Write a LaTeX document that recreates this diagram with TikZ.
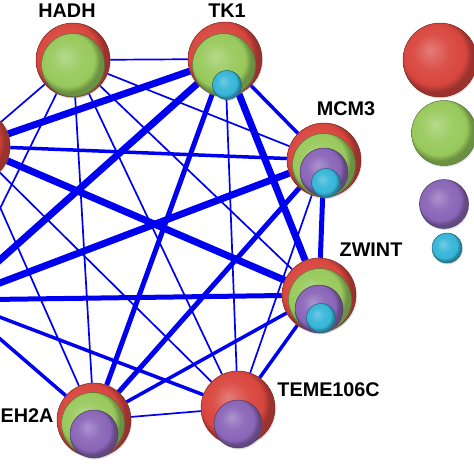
\documentclass[tikz,border=0pt]{standalone}
\usepackage{fontspec}
\setmainfont{Liberation Sans}
\usepackage{tikz}
\usetikzlibrary{positioning,shadows,backgrounds}

\definecolor{genered}{HTML}{D8463E}
\definecolor{genegreen}{HTML}{98C95C}
\definecolor{genepurple}{HTML}{8A65B8}
\definecolor{genecyan}{HTML}{36B5D8}
\definecolor{linkblue}{HTML}{0000F0}

\makeatletter
\pgfdeclareradialshading[tikz@ball]{softball}{\pgfqpoint{-7bp}{7bp}}{%
  color(0bp)=(tikz@ball!70!white); color(12bp)=(tikz@ball!94!white);
  color(21bp)=(tikz@ball); color(25bp)=(tikz@ball!72!black); color(50bp)=(tikz@ball!72!black)}
\makeatother

\begin{document}
\begin{tikzpicture}[
      x=1pt, y=-1pt,
      ball/.style={circle, inner sep=0pt, draw=#1!55!black, line width=0.5pt,
                   ball color=#1, shading=softball,
                   drop shadow={opacity=0.25, shadow xshift=0.8pt, shadow yshift=-1.5pt}},
      redball/.style={ball=genered, minimum size=74pt},
      greenball/.style={ball=genegreen, minimum size=63pt},
      purpleball/.style={ball=genepurple, minimum size=48pt},
      cyanball/.style={ball=genecyan, minimum size=29pt},
      genelabel/.style={inner sep=0pt, font=\fontsize{19.8}{22}\selectfont\bfseries},
      weaklink/.style={draw=linkblue, line width=1.7pt},
      midlink/.style={draw=linkblue, line width=3.5pt},
      heavylink/.style={draw=linkblue, line width=5pt},
      stronglink/.style={draw=linkblue, line width=7pt},
    ]
    \useasboundingbox (0,0) rectangle (474,474);

    % genes
    \node[redball] (hadh) at (73,60) {};
    \node[greenball] (hadh-g) at (73,65) {};

    \node[redball] (tk1) at (225,59) {};
    \node[greenball] (tk1-g) at (224,65) {};
    \node[cyanball] (tk1-c) at (227,85) {};

    \node[redball] (mcm3) at (324,160) {};
    \node[greenball] (mcm3-g) at (324,165) {};
    \node[purpleball] (mcm3-p) at (324,172) {};
    \node[cyanball] (mcm3-c) at (326,183) {};

    \node[redball] (zwint) at (319,295) {};
    \node[greenball] (zwint-g) at (320,300) {};
    \node[purpleball] (zwint-p) at (319,309) {};
    \node[cyanball] (zwint-c) at (321,318) {};

    \node[redball] (teme) at (238,408) {};
    \node[purpleball] (teme-p) at (238,424) {};

    \node[redball] (eh2a) at (94,420) {};
    \node[greenball] (eh2a-g) at (93,424) {};
    \node[purpleball] (eh2a-p) at (94,434) {};

    \node[redball] (cut1) at (-27,146) {};
    \coordinate (cut2) at (-45,300);

    \node[genelabel, above=5pt of hadh, xshift=-6pt] (hadh-l) {HADH};
    \node[genelabel, above=4pt of tk1, xshift=2pt] (tk1-l) {TK1};
    \node[genelabel, above=7pt of mcm3, xshift=22pt] (mcm3-l) {MCM3};
    \node[genelabel, above=1pt of zwint, xshift=52pt] (zwint-l) {ZWINT};
    \node[genelabel, right=2pt of teme, yshift=18pt] (teme-l) {TEME106C};
    \node[genelabel, left=3pt of eh2a, yshift=4pt] (eh2a-l) {EH2A};

    % legend
    \node[redball] (key-r) at (440,60) {};
    \node[greenball, minimum size=65pt] (key-g) at (444,133) {};
    \node[purpleball, minimum size=49pt] (key-p) at (444,204) {};
    \node[cyanball, minimum size=30pt] (key-c) at (447,248) {};

    % links
    \begin{scope}[on background layer]
    \draw[weaklink] (hadh) -- (tk1);
    \draw[weaklink] (hadh) -- (mcm3);
    \draw[weaklink] (hadh) -- (zwint);
    \draw[weaklink] (hadh) -- (teme);
    \draw[weaklink] (hadh) -- (eh2a);
    \draw[weaklink] (hadh) -- (cut2);
    \draw[weaklink] (hadh) -- (cut1);

    \draw[midlink] (tk1) -- (mcm3);
    \draw[stronglink] (tk1) -- (zwint);
    \draw[weaklink] (tk1) -- (teme);
    \draw[heavylink] (tk1) -- (eh2a);
    \draw[stronglink] (tk1) -- (cut2);
    \draw[stronglink] (tk1) -- (cut1);

    \draw[heavylink] (mcm3) -- (zwint);
    \draw[weaklink] (mcm3) -- (teme);
    \draw[heavylink] (mcm3) -- (eh2a);
    \draw[stronglink] (mcm3) -- (cut2);
    \draw[midlink] (mcm3) -- (cut1);

    \draw[midlink] (zwint) -- (teme);
    \draw[midlink] (zwint) -- (eh2a);
    \draw[heavylink] (zwint) -- (cut2);
    \draw[stronglink] (zwint) -- (cut1);

    \draw[weaklink] (teme) -- (eh2a);
    \draw[midlink] (teme) -- (cut2);
    \draw[weaklink] (teme) -- (cut1);

    \draw[midlink] (eh2a) -- (cut2);
    \draw[weaklink] (eh2a) -- (cut1);
    \end{scope}
  \end{tikzpicture}
\end{document}
